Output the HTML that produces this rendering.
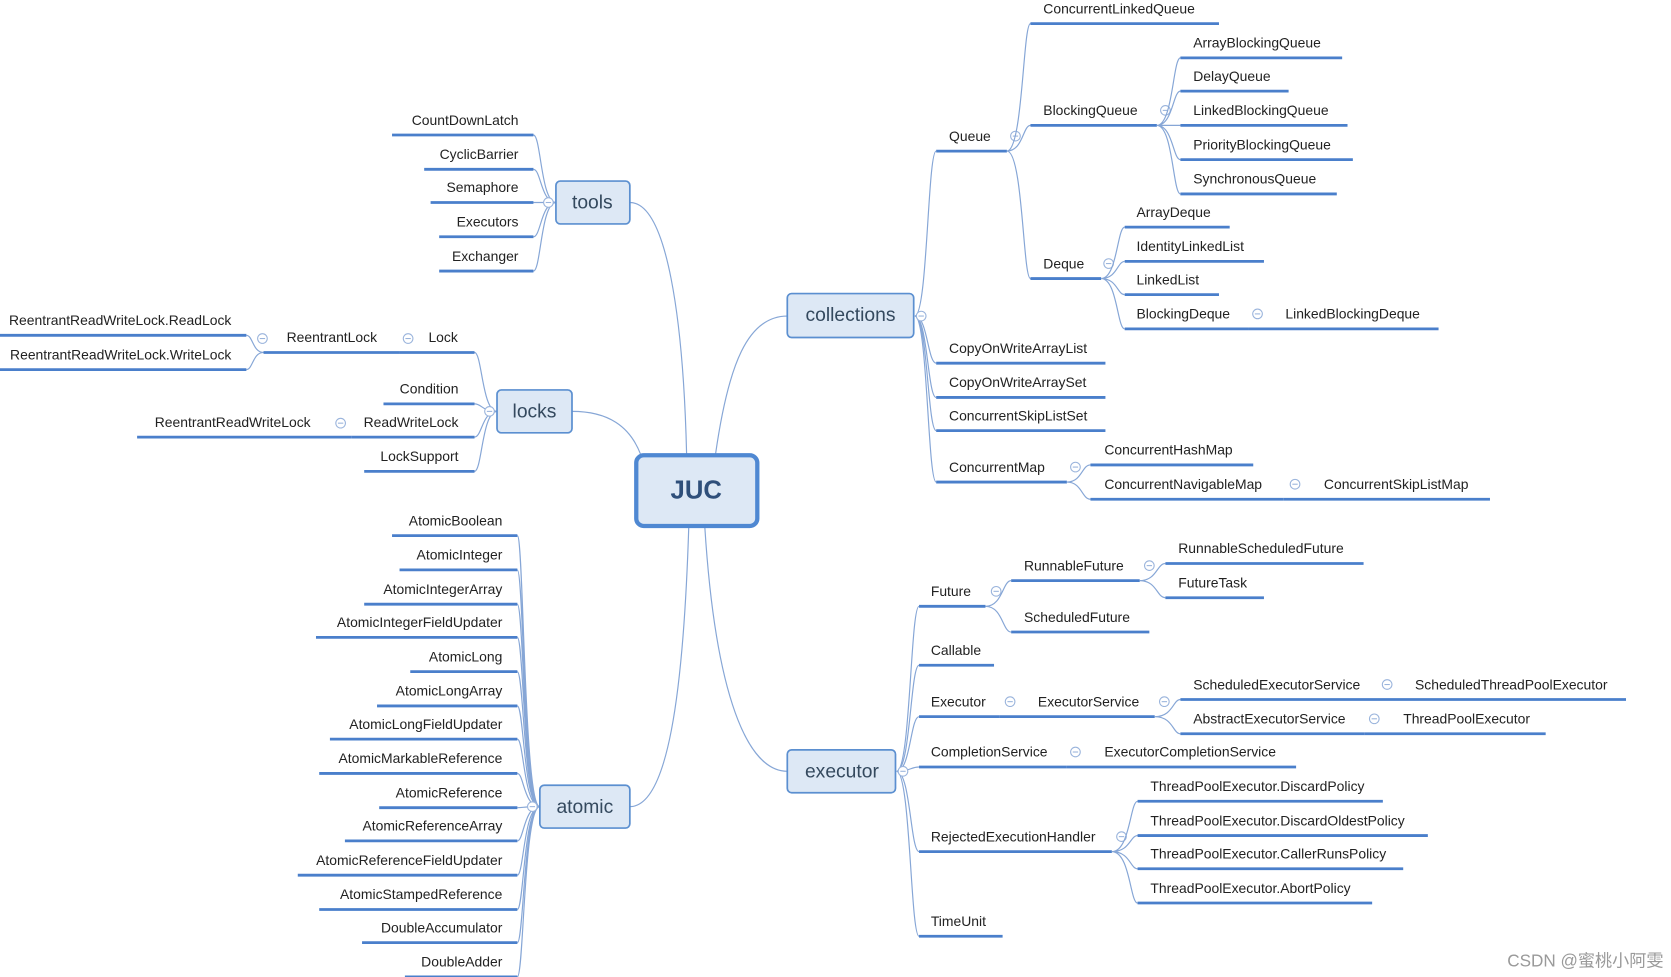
<!DOCTYPE html>
<html><head><meta charset="utf-8"><style>
html,body{margin:0;padding:0;background:#fff;}
svg{display:block}
text{font-family:"Liberation Sans","DejaVu Sans",sans-serif;font-size:13px;fill:#222;dominant-baseline:middle}
.u{stroke:#4a7fcb;stroke-width:2.6}
.c{fill:none;stroke:#86a6d6;stroke-width:1.1}
.o{fill:#fff;stroke:#9ab4dc;stroke-width:1}
.n{fill:#dde8f5;stroke:#5b8fd0;stroke-width:1.6}
.nt{font-size:18px;fill:#34495e}
.e{text-anchor:end}
</style></head><body>
<svg width="1671" height="977" viewBox="0 0 1560 912" xmlns="http://www.w3.org/2000/svg">
<defs><g id="m"><circle class="o" cx="0" cy="0" r="4.5"/><line x1="-2.5" y1="0" x2="2.5" y2="0" stroke="#9ab4dc" stroke-width="1"/></g></defs>
<g transform="translate(-2,0)">
<!-- JUC connectors -->
<path class="c" d="M643,424 C640,300 625,189 590,189"/>
<path class="c" d="M600,424 C590,398 570,384 536,384"/>
<path class="c" d="M645,492 C640,650 625,753 590,753"/>
<path class="c" d="M670,424 C682,340 700,295 737,295"/>
<path class="c" d="M660,492 C670,650 700,720 737,720"/>

<!-- tools -->
<g>
<path class="c" d="M521,189 C507,189 507,126 500,126"/>
<path class="c" d="M521,189 C507,189 507,158 500,158"/>
<path class="c" d="M521,189 L500,189"/>
<path class="c" d="M521,189 C507,189 507,221 500,221"/>
<path class="c" d="M521,189 C507,189 507,253 500,253"/>
<line class="u" x1="368" y1="126" x2="500" y2="126"/><text class="e" x="486" y="113">CountDownLatch</text>
<line class="u" x1="398" y1="158" x2="500" y2="158"/><text class="e" x="486" y="145">CyclicBarrier</text>
<line class="u" x1="404" y1="189" x2="500" y2="189"/><text class="e" x="486" y="176">Semaphore</text>
<line class="u" x1="412" y1="221" x2="500" y2="221"/><text class="e" x="486" y="208">Executors</text>
<line class="u" x1="412" y1="253" x2="500" y2="253"/><text class="e" x="486" y="240">Exchanger</text>
<use href="#m" x="514" y="189"/>
<rect class="n" x="521" y="169" width="69" height="40" rx="4"/><text class="nt" x="555" y="190" text-anchor="middle">tools</text>
</g>

<!-- locks -->
<g>
<path class="c" d="M466,384 C452,384 452,329 445,329"/>
<path class="c" d="M466,384 C452,384 452,377 445,377"/>
<path class="c" d="M466,384 C452,384 452,408 445,408"/>
<path class="c" d="M466,384 C452,384 452,440 445,440"/>
<line class="u" x1="375" y1="329" x2="445" y2="329"/><text x="402" y="316">Lock</text>
<use href="#m" x="383" y="316"/>
<line class="u" x1="248" y1="329" x2="375" y2="329"/><text class="e" x="354" y="316">ReentrantLock</text>
<use href="#m" x="247" y="316"/>
<path class="c" d="M248,329 C238,329 238,313 232,313"/>
<path class="c" d="M248,329 C238,329 238,345 232,345"/>
<line class="u" x1="0" y1="313" x2="232" y2="313"/><text class="e" x="218" y="300">ReentrantReadWriteLock.ReadLock</text>
<line class="u" x1="0" y1="345" x2="232" y2="345"/><text class="e" x="218" y="332">ReentrantReadWriteLock.WriteLock</text>
<line class="u" x1="360" y1="377" x2="445" y2="377"/><text class="e" x="430" y="364">Condition</text>
<line class="u" x1="330" y1="408" x2="445" y2="408"/><text class="e" x="430" y="395">ReadWriteLock</text>
<use href="#m" x="320" y="395"/>
<line class="u" x1="130" y1="408" x2="330" y2="408"/><text class="e" x="292" y="395">ReentrantReadWriteLock</text>
<line class="u" x1="342" y1="440" x2="445" y2="440"/><text class="e" x="430" y="427">LockSupport</text>
<use href="#m" x="459" y="384"/>
<rect class="n" x="466" y="364" width="70" height="40" rx="4"/><text class="nt" x="501" y="385" text-anchor="middle">locks</text>
</g>

<!-- atomic -->
<g>
<path class="c" d="M506,753 C491,753 491,500 485,500 M506,753 C491,753 491,532 485,532 M506,753 C491,753 491,564 485,564 M506,753 C491,753 491,595 485,595 M506,753 C491,753 491,627 485,627 M506,753 C491,753 491,659 485,659 M506,753 C491,753 491,690 485,690 M506,753 C491,753 491,722 485,722 M506,753 C491,753 491,754 485,754 M506,753 C491,753 491,785 485,785 M506,753 C491,753 491,817 485,817 M506,753 C491,753 491,849 485,849 M506,753 C491,753 491,880 485,880 M506,753 C491,753 491,912 485,912"/>
<line class="u" x1="368" y1="500" x2="485" y2="500"/><text class="e" x="471" y="487">AtomicBoolean</text>
<line class="u" x1="375" y1="532" x2="485" y2="532"/><text class="e" x="471" y="519">AtomicInteger</text>
<line class="u" x1="342" y1="564" x2="485" y2="564"/><text class="e" x="471" y="551">AtomicIntegerArray</text>
<line class="u" x1="297" y1="595" x2="485" y2="595"/><text class="e" x="471" y="582">AtomicIntegerFieldUpdater</text>
<line class="u" x1="385" y1="627" x2="485" y2="627"/><text class="e" x="471" y="614">AtomicLong</text>
<line class="u" x1="354" y1="659" x2="485" y2="659"/><text class="e" x="471" y="646">AtomicLongArray</text>
<line class="u" x1="310" y1="690" x2="485" y2="690"/><text class="e" x="471" y="677">AtomicLongFieldUpdater</text>
<line class="u" x1="300" y1="722" x2="485" y2="722"/><text class="e" x="471" y="709">AtomicMarkableReference</text>
<line class="u" x1="356" y1="754" x2="485" y2="754"/><text class="e" x="471" y="741">AtomicReference</text>
<line class="u" x1="324" y1="785" x2="485" y2="785"/><text class="e" x="471" y="772">AtomicReferenceArray</text>
<line class="u" x1="280" y1="817" x2="485" y2="817"/><text class="e" x="471" y="804">AtomicReferenceFieldUpdater</text>
<line class="u" x1="300" y1="849" x2="485" y2="849"/><text class="e" x="471" y="836">AtomicStampedReference</text>
<line class="u" x1="340" y1="880" x2="485" y2="880"/><text class="e" x="471" y="867">DoubleAccumulator</text>
<line class="u" x1="380" y1="912" x2="485" y2="912"/><text class="e" x="471" y="899">DoubleAdder</text>
<use href="#m" x="499" y="753"/>
<rect class="n" x="506" y="733" width="84" height="40" rx="4"/><text class="nt" x="548" y="754" text-anchor="middle">atomic</text>
</g>

<!-- collections -->
<g>
<path class="c" d="M856,295 C868,295 868,141 876,141 M856,295 C868,295 868,339 876,339 M856,295 C868,295 868,371 876,371 M856,295 C868,295 868,402 876,402 M856,295 C868,295 868,450 876,450"/>
<line class="u" x1="876" y1="141" x2="942" y2="141"/><text x="888" y="128">Queue</text><use href="#m" x="950" y="127"/>
<path class="c" d="M942,141 C957,141 957,22 964,22 M942,141 C957,141 957,117 964,117 M942,141 C957,141 957,260 964,260"/>
<line class="u" x1="964" y1="22" x2="1140" y2="22"/><text x="976" y="9">ConcurrentLinkedQueue</text>
<line class="u" x1="964" y1="117" x2="1082" y2="117"/><text x="976" y="104">BlockingQueue</text><use href="#m" x="1090" y="103"/>
<path class="c" d="M1082,117 C1097,117 1097,54 1104,54 M1082,117 C1097,117 1097,85 1104,85 M1082,117 L1104,117 M1082,117 C1097,117 1097,149 1104,149 M1082,117 C1097,117 1097,181 1104,181"/>
<line class="u" x1="1104" y1="54" x2="1255" y2="54"/><text x="1116" y="41">ArrayBlockingQueue</text>
<line class="u" x1="1104" y1="85" x2="1205" y2="85"/><text x="1116" y="72">DelayQueue</text>
<line class="u" x1="1104" y1="117" x2="1260" y2="117"/><text x="1116" y="104">LinkedBlockingQueue</text>
<line class="u" x1="1104" y1="149" x2="1265" y2="149"/><text x="1116" y="136">PriorityBlockingQueue</text>
<line class="u" x1="1104" y1="181" x2="1250" y2="181"/><text x="1116" y="168">SynchronousQueue</text>
<line class="u" x1="964" y1="260" x2="1030" y2="260"/><text x="976" y="247">Deque</text><use href="#m" x="1037" y="246"/>
<path class="c" d="M1030,260 C1045,260 1045,212 1052,212 M1030,260 C1045,260 1045,244 1052,244 M1030,260 C1045,260 1045,275 1052,275 M1030,260 C1045,260 1045,307 1052,307"/>
<line class="u" x1="1052" y1="212" x2="1150" y2="212"/><text x="1063" y="199">ArrayDeque</text>
<line class="u" x1="1052" y1="244" x2="1182" y2="244"/><text x="1063" y="231">IdentityLinkedList</text>
<line class="u" x1="1052" y1="275" x2="1140" y2="275"/><text x="1063" y="262">LinkedList</text>
<line class="u" x1="1052" y1="307" x2="1168" y2="307"/><text x="1063" y="294">BlockingDeque</text><use href="#m" x="1176" y="293"/>
<line class="u" x1="1168" y1="307" x2="1345" y2="307"/><text x="1202" y="294">LinkedBlockingDeque</text>
<line class="u" x1="876" y1="339" x2="1034" y2="339"/><text x="888" y="326">CopyOnWriteArrayList</text>
<line class="u" x1="876" y1="371" x2="1034" y2="371"/><text x="888" y="358">CopyOnWriteArraySet</text>
<line class="u" x1="876" y1="402" x2="1034" y2="402"/><text x="888" y="389">ConcurrentSkipListSet</text>
<line class="u" x1="876" y1="450" x2="998" y2="450"/><text x="888" y="437">ConcurrentMap</text><use href="#m" x="1006" y="436"/>
<path class="c" d="M998,450 C1012,450 1012,434 1020,434 M998,450 C1012,450 1012,466 1020,466"/>
<line class="u" x1="1020" y1="434" x2="1172" y2="434"/><text x="1033" y="421">ConcurrentHashMap</text>
<line class="u" x1="1020" y1="466" x2="1200" y2="466"/><text x="1033" y="453">ConcurrentNavigableMap</text><use href="#m" x="1211" y="452"/>
<line class="u" x1="1200" y1="466" x2="1393" y2="466"/><text x="1238" y="453">ConcurrentSkipListMap</text>
<use href="#m" x="862" y="295"/>
<rect class="n" x="737" y="274" width="118" height="41" rx="4"/><text class="nt" x="796" y="295" text-anchor="middle">collections</text>
</g>

<!-- executor -->
<g>
<path class="c" d="M839,720 C852,720 852,566 860,566 M839,720 C852,720 852,621 860,621 M839,720 C852,720 852,669 860,669 M839,720 C852,720 852,716 860,716 M839,720 C852,720 852,795 860,795 M839,720 C852,720 852,874 860,874"/>
<line class="u" x1="860" y1="566" x2="922" y2="566"/><text x="871" y="553">Future</text><use href="#m" x="932" y="552"/>
<path class="c" d="M922,566 C938,566 938,542 946,542 M922,566 C938,566 938,590 946,590"/>
<line class="u" x1="946" y1="542" x2="1066" y2="542"/><text x="958" y="529">RunnableFuture</text><use href="#m" x="1075" y="528"/>
<line class="u" x1="946" y1="590" x2="1075" y2="590"/><text x="958" y="577">ScheduledFuture</text>
<path class="c" d="M1066,542 C1082,542 1082,526 1090,526 M1066,542 C1082,542 1082,558 1090,558"/>
<line class="u" x1="1090" y1="526" x2="1275" y2="526"/><text x="1102" y="513">RunnableScheduledFuture</text>
<line class="u" x1="1090" y1="558" x2="1182" y2="558"/><text x="1102" y="545">FutureTask</text>
<line class="u" x1="860" y1="621" x2="930" y2="621"/><text x="871" y="608">Callable</text>
<line class="u" x1="860" y1="669" x2="935" y2="669"/><text x="871" y="656">Executor</text><use href="#m" x="945" y="655"/>
<line class="u" x1="935" y1="669" x2="1080" y2="669"/><text x="971" y="656">ExecutorService</text><use href="#m" x="1089" y="655"/>
<path class="c" d="M1080,669 C1097,669 1097,653 1104,653 M1080,669 C1097,669 1097,685 1104,685"/>
<line class="u" x1="1104" y1="653" x2="1288" y2="653"/><text x="1116" y="640">ScheduledExecutorService</text><use href="#m" x="1297" y="639"/>
<line class="u" x1="1288" y1="653" x2="1520" y2="653"/><text x="1323" y="640">ScheduledThreadPoolExecutor</text>
<line class="u" x1="1104" y1="685" x2="1276" y2="685"/><text x="1116" y="672">AbstractExecutorService</text><use href="#m" x="1285" y="671"/>
<line class="u" x1="1276" y1="685" x2="1445" y2="685"/><text x="1312" y="672">ThreadPoolExecutor</text>
<line class="u" x1="860" y1="716" x2="998" y2="716"/><text x="871" y="703">CompletionService</text><use href="#m" x="1006" y="702"/>
<line class="u" x1="998" y1="716" x2="1212" y2="716"/><text x="1033" y="703">ExecutorCompletionService</text>
<line class="u" x1="860" y1="795" x2="1040" y2="795"/><text x="871" y="782">RejectedExecutionHandler</text><use href="#m" x="1049" y="781"/>
<path class="c" d="M1040,795 C1057,795 1057,748 1064,748 M1040,795 C1057,795 1057,780 1064,780 M1040,795 C1057,795 1057,811 1064,811 M1040,795 C1057,795 1057,843 1064,843"/>
<line class="u" x1="1064" y1="748" x2="1293" y2="748"/><text x="1076" y="735">ThreadPoolExecutor.DiscardPolicy</text>
<line class="u" x1="1064" y1="780" x2="1335" y2="780"/><text x="1076" y="767">ThreadPoolExecutor.DiscardOldestPolicy</text>
<line class="u" x1="1064" y1="811" x2="1312" y2="811"/><text x="1076" y="798">ThreadPoolExecutor.CallerRunsPolicy</text>
<line class="u" x1="1064" y1="843" x2="1283" y2="843"/><text x="1076" y="830">ThreadPoolExecutor.AbortPolicy</text>
<line class="u" x1="860" y1="874" x2="938" y2="874"/><text x="871" y="861">TimeUnit</text>
<use href="#m" x="845" y="720"/>
<rect class="n" x="737" y="700" width="101" height="40" rx="4"/><text class="nt" x="788" y="721" text-anchor="middle">executor</text>
</g>

<!-- JUC -->
<rect x="596" y="425" width="113" height="66" rx="7" fill="#dde8f5" stroke="#4f88d2" stroke-width="4"/>
<text x="652" y="459" text-anchor="middle" style="font-size:24px;font-weight:bold;fill:#2f4f7a">JUC</text>
</g>
<text x="1553" y="898" text-anchor="end" style="font-family:'Liberation Sans','Noto Sans CJK SC',sans-serif;font-size:16px;fill:#9a9a9a">CSDN @蜜桃小阿雯</text>
</svg>
</body></html>
